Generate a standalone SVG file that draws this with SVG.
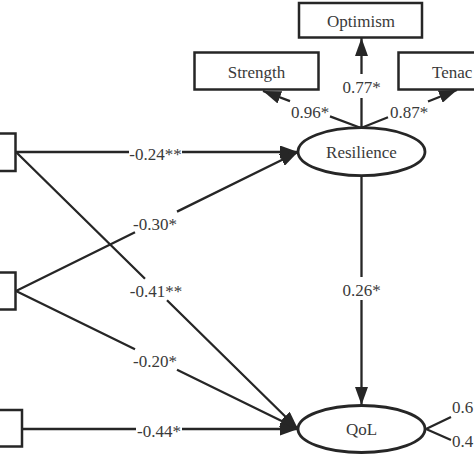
<svg xmlns="http://www.w3.org/2000/svg" width="474" height="474" viewBox="0 0 474 474">
<style>
.box{fill:#fff;stroke:#262626;stroke-width:2.5}
.ell{fill:#fff;stroke:#262626;stroke-width:2.8}
.con{fill:none;stroke:#262626;stroke-width:2.3}
text{font-family:'Times New Roman','Liberation Serif',Tinos,'DejaVu Serif','Noto Serif',FreeSerif,serif;font-size:17px;fill:#3a3a3a}
.t{text-anchor:middle}
.ts{text-anchor:start}
</style>
<defs>
<marker id="ah" viewBox="0 0 18 13" refX="18" refY="6.5" markerWidth="18" markerHeight="13" markerUnits="userSpaceOnUse" orient="auto">
<path d="M0,0 L18,6.5 L0,13 z" fill="#262626"/>
</marker>
</defs>
<rect width="474" height="474" fill="#fff"/>
<g id="connectors">
<path class="con" d="M16,152 H129 M182,152 H298" marker-end="url(#ah)"/>
<path class="con" d="M16,291 L135,232.3 M177,211.6 L298,152" marker-end="url(#ah)"/>
<path class="con" d="M16,152 L145,278.7 M167,300.3 L298,429" marker-end="url(#ah)"/>
<path class="con" d="M16,291 L135,349.2 M177,369.8 L298,429" marker-end="url(#ah)"/>
<path class="con" d="M22,429 H136 M182,429 H298" marker-end="url(#ah)"/>
<path class="con" d="M361.5,176 V277 M361.5,300 V405" marker-end="url(#ah)"/>
<path class="con" d="M361.5,128 V98 M361.5,74 V38" marker-end="url(#ah)"/>
<path class="con" d="M361,128 L330,116.3 M290,101.2 L263,91" marker-end="url(#ah)"/>
<path class="con" d="M361,128 L388,117.3 M428,101.5 L457,90" marker-end="url(#ah)"/>
<path class="con" d="M426,429 L451,417 M426,429 L451,440"/>
<text class="t" x="155.5" y="160">-0.24**</text>
<text class="t" x="155" y="230">-0.30*</text>
<text class="t" x="156" y="297">-0.41**</text>
<text class="t" x="155" y="367">-0.20*</text>
<text class="t" x="159" y="437">-0.44*</text>
<text class="t" x="361.5" y="296">0.26*</text>
<text class="t" x="361.5" y="93">0.77*</text>
<text class="t" x="310" y="118">0.96*</text>
<text class="t" x="409" y="118">0.87*</text>
<text class="ts" x="452" y="413">0.6</text>
<text class="ts" x="452" y="447">0.4</text>
</g>
<g id="x1"><rect class="box" x="-5" y="133.5" width="20.5" height="37.5"/></g>
<g id="x2"><rect class="box" x="-5" y="272.5" width="20.5" height="37"/></g>
<g id="x3"><rect class="box" x="-5" y="410" width="27" height="36.5"/></g>
<g id="optimism"><rect class="box" x="299" y="3" width="123" height="34.5"/><text class="t" x="361" y="26.5">Optimism</text></g>
<g id="strength"><rect class="box" x="194.5" y="52.5" width="124" height="37"/><text class="t" x="256.5" y="78">Strength</text></g>
<g id="tenacity"><rect class="box" x="398.5" y="52.5" width="130" height="37"/><text class="ts" x="432" y="78">Tenac</text></g>
<g id="resilience"><ellipse class="ell" cx="361.5" cy="151.7" rx="63.5" ry="24"/><text class="t" x="361.5" y="158">Resilience</text></g>
<g id="qol"><ellipse class="ell" cx="361.5" cy="429" rx="63.5" ry="23.5"/><text class="t" x="361.5" y="435">QoL</text></g>
</svg>
